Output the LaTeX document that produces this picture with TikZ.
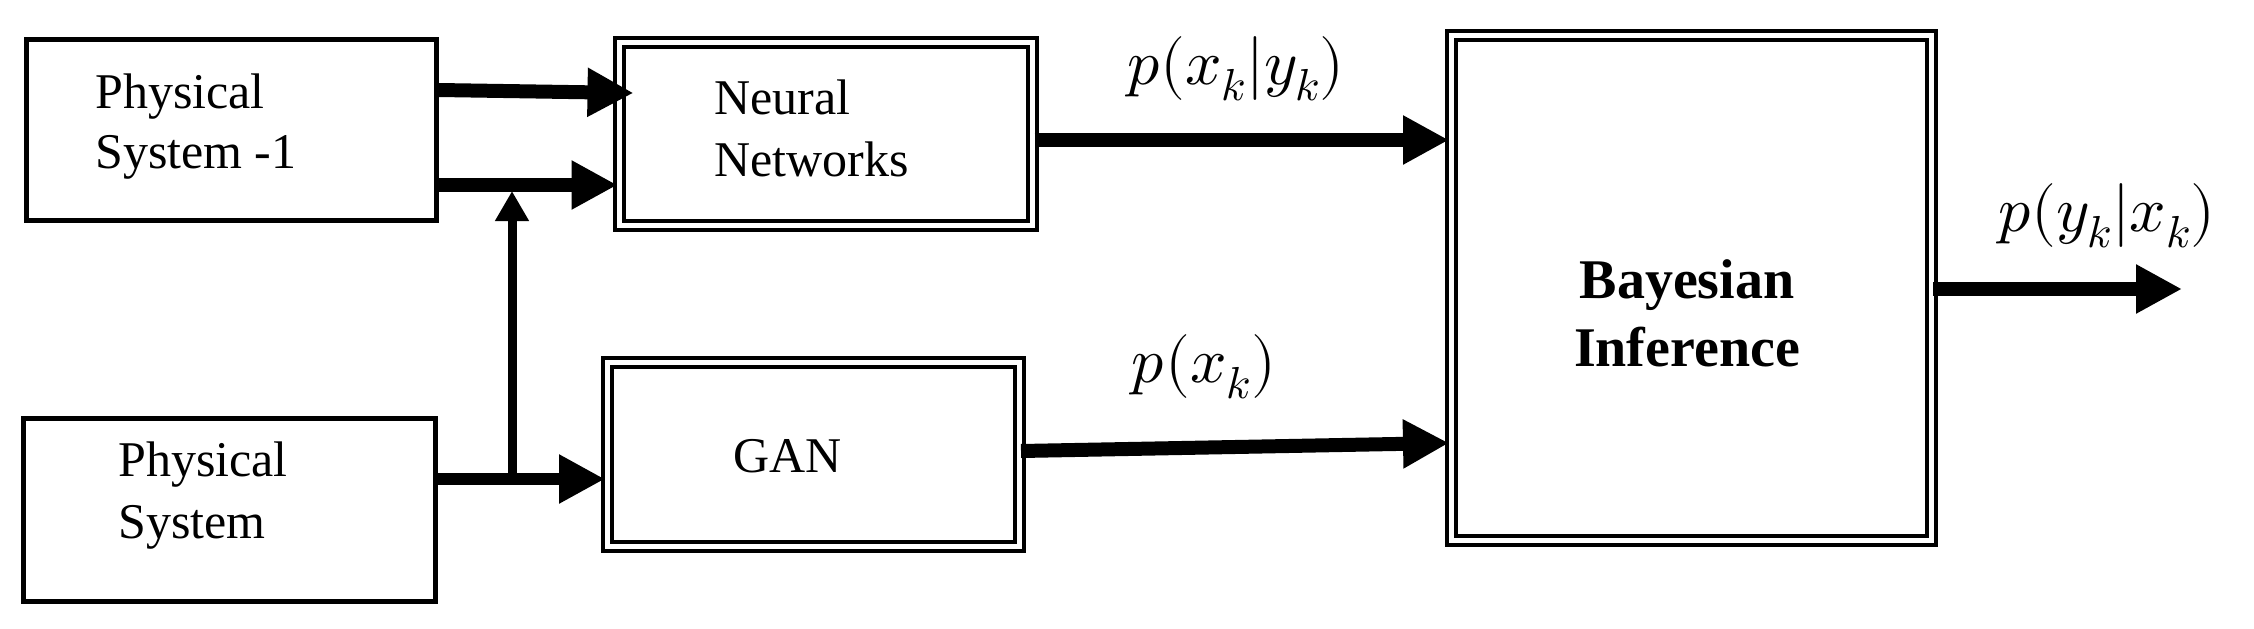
\documentclass[tikz,border=0pt]{standalone}
\usepackage{fontspec}
\usepackage{unicode-math}
\setmainfont{Liberation Serif}
\setmathfont{Latin Modern Math}
\usetikzlibrary{arrows.meta}
\begin{document}
\begin{tikzpicture}[x=1pt,y=1pt,
  box/.style={draw,line width=5pt,minimum width=#1,inner sep=0pt},
  dbox/.style={draw,line width=4pt,double=white,double distance=5pt,inner sep=0pt},
  txt/.style={font=\fontsize{50}{60}\selectfont,anchor=base west,inner sep=0pt},
  lab/.style={font=\fontsize{64}{70}\selectfont,inner sep=0pt},
  big/.style={line width=14pt,-{Triangle[length=46pt,width=46pt]}},
  thin/.style={line width=9pt,-{Triangle[length=30pt,width=32pt]}}]
\useasboundingbox (0,0) rectangle (2254,-629);
\node[box=410pt,minimum height=181pt] (ps1) at (231,-129.5) {};
\node[box=412pt,minimum height=183pt] (ps) at (229,-509.5) {};
\node[dbox,minimum width=413pt,minimum height=183pt] (nn) at (826,-133.5) {};
\node[dbox,minimum width=412pt,minimum height=184pt] (gan) at (813,-454) {};
\node[dbox,minimum width=480pt,minimum height=505pt] (bay) at (1691,-288) {};
\node[txt] (t1) at (95,-108) {Physical};
\node[txt] (t2) at (95,-168) {System -1};
\node[txt] (t3) at (118,-476) {Physical};
\node[txt] (t4) at (118,-538) {System};
\node[txt] (t5) at (714,-114) {Neural};
\node[txt] (t6) at (714,-176) {Networks};
\node[txt] (t7) at (733,-472) {GAN};
\node[txt,anchor=base,font=\fontsize{56}{68}\selectfont\bfseries] (t8) at (1687,-298) {Bayesian};
\node[txt,anchor=base,font=\fontsize{56}{68}\selectfont\bfseries] (t9) at (1687,-366) {Inference};
\node[lab] (l1) at (1236,-69) {$p(x_k|y_k)$};
\node[lab] (l2) at (1204,-367) {$p(x_k)$};
\node[lab] (l3) at (2107,-216) {$p(y_k|x_k)$};
\coordinate (out) at (2182,-289);
\coordinate (j) at (512,-479);
\draw[big] ([yshift=39.5pt]ps1.east) -- ([xshift=16pt,yshift=40.5pt]nn.west);
\draw[big] ([yshift=-55.5pt]ps1.east) -- ([yshift=-51.5pt]nn.west);
\draw[big,line width=12pt] ([yshift=30.5pt]ps.east) -- ([yshift=-25pt]gan.west);
\draw[thin] (j) -- (j |- 0,-191);
\draw[big] ([yshift=-6.5pt]nn.east) -- ([yshift=148pt]bay.west);
\draw[big] ([yshift=3pt]gan.east) -- ([yshift=-155pt]bay.west);
\draw[big] ([yshift=-1pt]bay.east) -- (out);
\end{tikzpicture}
\end{document}
